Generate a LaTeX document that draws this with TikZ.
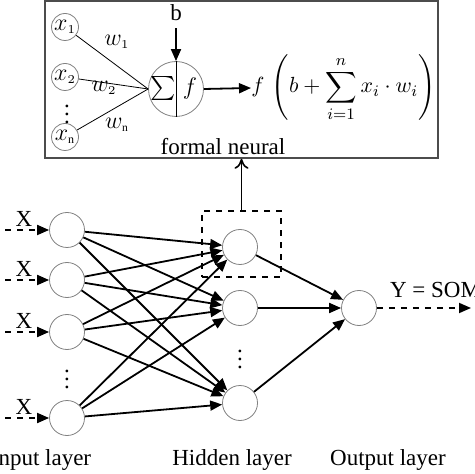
\documentclass[tikz,border=0pt]{standalone}
\usepackage{amsmath}
\usepackage{fontspec}
\setmainfont{Liberation Serif}
\usetikzlibrary{positioning,arrows.meta}

\begin{document}
\begin{tikzpicture}[x=0.5pt,y=-0.5pt,font=\fontsize{11.5}{13}\selectfont,
    neuron/.style={circle,draw=gray,minimum size=17.5pt,inner sep=0pt},
    small/.style={circle,draw=gray,minimum size=13.5pt,inner sep=0pt},
    link/.style={-{Triangle[length=6pt,width=5pt]},line width=0.9pt},
    feed/.style={link,dashed}]
    \useasboundingbox (0,0) rectangle (474,474);

    % Formal neuron box
    \node (formal) [draw=gray!60!black,line width=0.8pt,minimum width=196.5pt,minimum height=78.5pt,inner sep=0pt] at (241.5,79.5) {};

    % Inputs and weights
    \foreach \n/\y/\t in {1/27/1, 2/77/2, n/137/{\rm n}} {
      \node (x\n) [small] at (65,\y) {\large$x_{\scriptscriptstyle\t}$};
    }
    \node [inner sep=0pt] at (67,108) {$\vdots$};
    \node (sum) [circle,draw=gray,minimum size=27.5pt,inner sep=0pt] at (176,89) {};
    \draw (sum.north) -- (sum.south);
    \node at (163,89) {\large$\sum$};
    \node at (190,89) {\large$f$};
    \foreach \n in {1,2,n} {
      \draw (x\n) -- (sum.west);
    }
    \node at (117,42) {$w_{\scriptscriptstyle 1}$};
    \node at (104,88) {$w_{\scriptscriptstyle 2}$};
    \node at (117,125) {$w_{\scriptscriptstyle\rm n}$};

    % Bias and output formula
    \node (bias) at (176,13) {b};
    \draw[link] (bias) -- (sum.north);
    \node (formula) [anchor=west,inner sep=0pt] at (251,88) {\fontsize{11}{13}\selectfont$\displaystyle f\,\left(b+\sum_{i=1}^{n}x_i\cdot w_i\right)$};
    \draw[link] (sum.east) -- (formula.west);
    \node at (223,147) {formal neural};

    % Input layer
    \foreach \n/\y in {1/230, 2/280, 3/332, 4/418} {
      \node (in\n) [neuron] at (67,\y) {};
      \coordinate (src\n) at (5,\y);
      \node at (24,\y-11) {X};
      \draw[feed] (src\n) -- (in\n);
    }
    \node [inner sep=0pt] at (67,373) {$\vdots$};

    % Hidden layer
    \foreach \n/\y in {1/247, 2/308, 3/403} {
      \node (hid\n) [neuron] at (240,\y) {};
    }
    \node [inner sep=0pt] at (240,353) {$\vdots$};
    \node (focus) [draw,dashed,line width=0.8pt,minimum width=39.5pt,minimum height=33pt,inner sep=0pt] at (241.5,244) {};
    \draw[-{To[length=5pt,width=7pt]},line width=0.8pt] (focus.north) -- (formal.south);

    % Output layer
    \node (out) [neuron] at (359,308) {};
    \coordinate (res) at (471,308);
    \node [anchor=west] at (383,290) {Y = SOM};
    \draw[feed] (out) -- (res);

    % Connections
    \foreach \i in {1,...,4} {
      \foreach \j in {1,2,3} {
        \draw[link] (in\i) -- (hid\j);
      }
    }
    \foreach \j in {1,2,3} {
      \draw[link] (hid\j) -- (out);
    }

    % Layer names
    \node at (41,460) {Input layer};
    \node at (232,460) {Hidden layer};
    \node at (388,460) {Output layer};
  \end{tikzpicture}
\end{document}
